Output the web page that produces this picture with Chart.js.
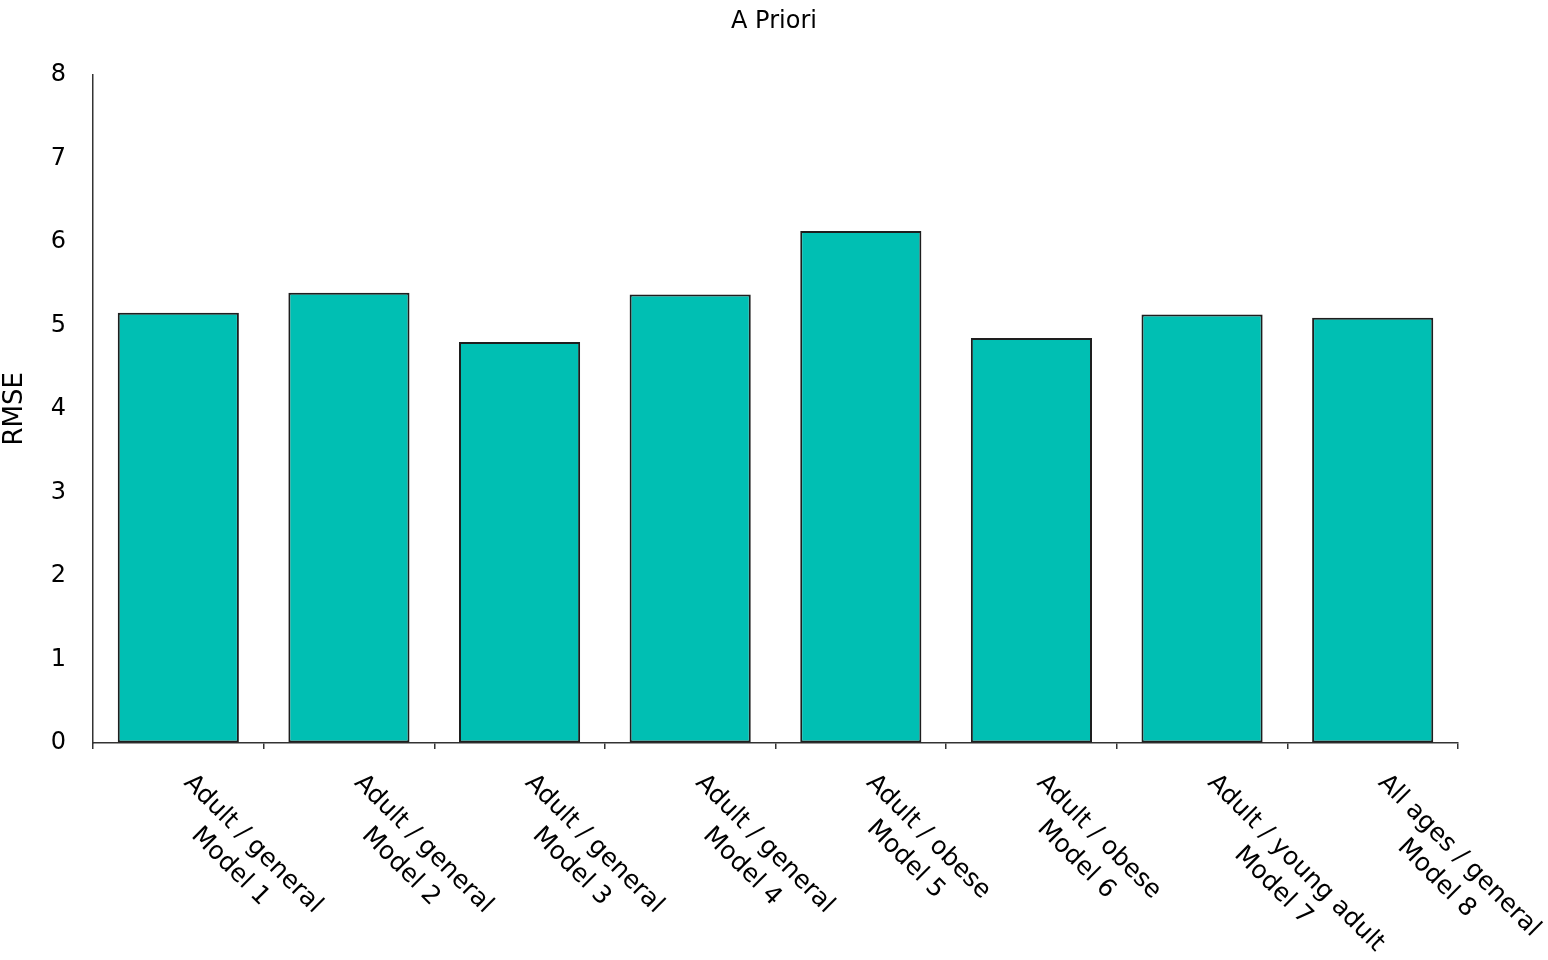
<!DOCTYPE html>
<html>
<head>
<meta charset="utf-8">
<script src="https://cdn.jsdelivr.net/npm/chart.js@4.4.1/dist/chart.umd.min.js"></script>
<style>
  html, body { margin: 0; padding: 0; background: #fff; }
</style>
</head>
<body>
<canvas id="rmseChart" width="1548" height="960"></canvas>
<script>
const groups = ['Adult / general', 'Adult / general', 'Adult / general', 'Adult / general',
                'Adult / obese', 'Adult / obese', 'Adult / young adult', 'All ages / general'];
const models = ['Model 1', 'Model 2', 'Model 3', 'Model 4', 'Model 5', 'Model 6', 'Model 7', 'Model 8'];
const rmseValues = [5.15, 5.39, 4.80, 5.37, 6.13, 4.85, 5.13, 5.09];
const yTicks = [0, 1, 2, 3, 4, 5, 6, 7, 8];

const FONT = '"DejaVu Sans", sans-serif';

// labels slanted down to the right, centred lines, like the original
const slantedLabels = {
    id: 'slantedLabels',
    afterDraw(chart) {
        const scale = chart.scales.x;
        const ctx = chart.ctx;
        ctx.save();
        ctx.font = '25px ' + FONT;
        ctx.fillStyle = '#000';
        ctx.textAlign = 'center';
        ctx.textBaseline = 'top';
        chart.data.labels.forEach((lines, i) => {
            const w = Math.max(...lines.map(l => ctx.measureText(l).width));
            const x = scale.getPixelForTick(i);
            ctx.save();
            ctx.translate(x + 18, scale.top + 27);
            ctx.rotate(Math.PI / 4);
            lines.forEach((l, j) => ctx.fillText(l, w / 2, j * 32));
            ctx.restore();
        });
        ctx.restore();
    }
};

const ctx = document.getElementById('rmseChart').getContext('2d');
const myChart = new Chart(ctx, {
    type: 'bar',
    data: {
        labels: groups.map((g, i) => [g, models[i]]),
        datasets: [{
            label: 'RMSE',
            data: rmseValues,
            backgroundColor: '#00BFB3',
            borderColor: '#1e1e1e',
            borderWidth: 2,
            borderSkipped: false,
            barPercentage: 0.71,
            categoryPercentage: 1
        }]
    },
    options: {
        responsive: false,
        animation: false,
        layout: { padding: 0 },
        plugins: {
            legend: { display: false },
            tooltip: { enabled: false },
            title: {
                display: true,
                text: 'A Priori',
                color: '#000',
                font: { family: FONT, size: 24, weight: 'normal' },
                padding: { top: 7, bottom: 39 }
            }
        },
        scales: {
            x: {
                grid: {
                    display: true,
                    offset: true,
                    drawOnChartArea: false,
                    drawTicks: true,
                    tickLength: 6,
                    color: '#333',
                    lineWidth: 1.5
                },
                border: { display: true, color: '#333', width: 1.5 },
                ticks: { display: false },
                afterFit(scale) { scale.height = 217; }
            },
            y: {
                min: 0,
                max: 8,
                afterBuildTicks(scale) { scale.ticks = yTicks.map(v => ({ value: v })); },
                grid: { display: true, drawOnChartArea: false, drawTicks: false },
                border: { display: true, color: '#333', width: 1.5 },
                ticks: {
                    color: '#000',
                    padding: 27,
                    font: { family: FONT, size: 24 }
                },
                title: {
                    display: true,
                    text: 'RMSE',
                    color: '#000',
                    font: { family: FONT, size: 26 },
                    padding: { top: 0, bottom: 0 }
                },
                afterFit(scale) { scale.width = 93; }
            },
            // empty right axis, only keeps the blank margin on the right
            yRight: {
                position: 'right',
                min: 0,
                max: 8,
                grid: { display: false },
                border: { display: false },
                ticks: { display: false },
                afterFit(scale) { scale.width = 90; }
            }
        }
    },
    plugins: [slantedLabels]
});
</script>
</body>
</html>
